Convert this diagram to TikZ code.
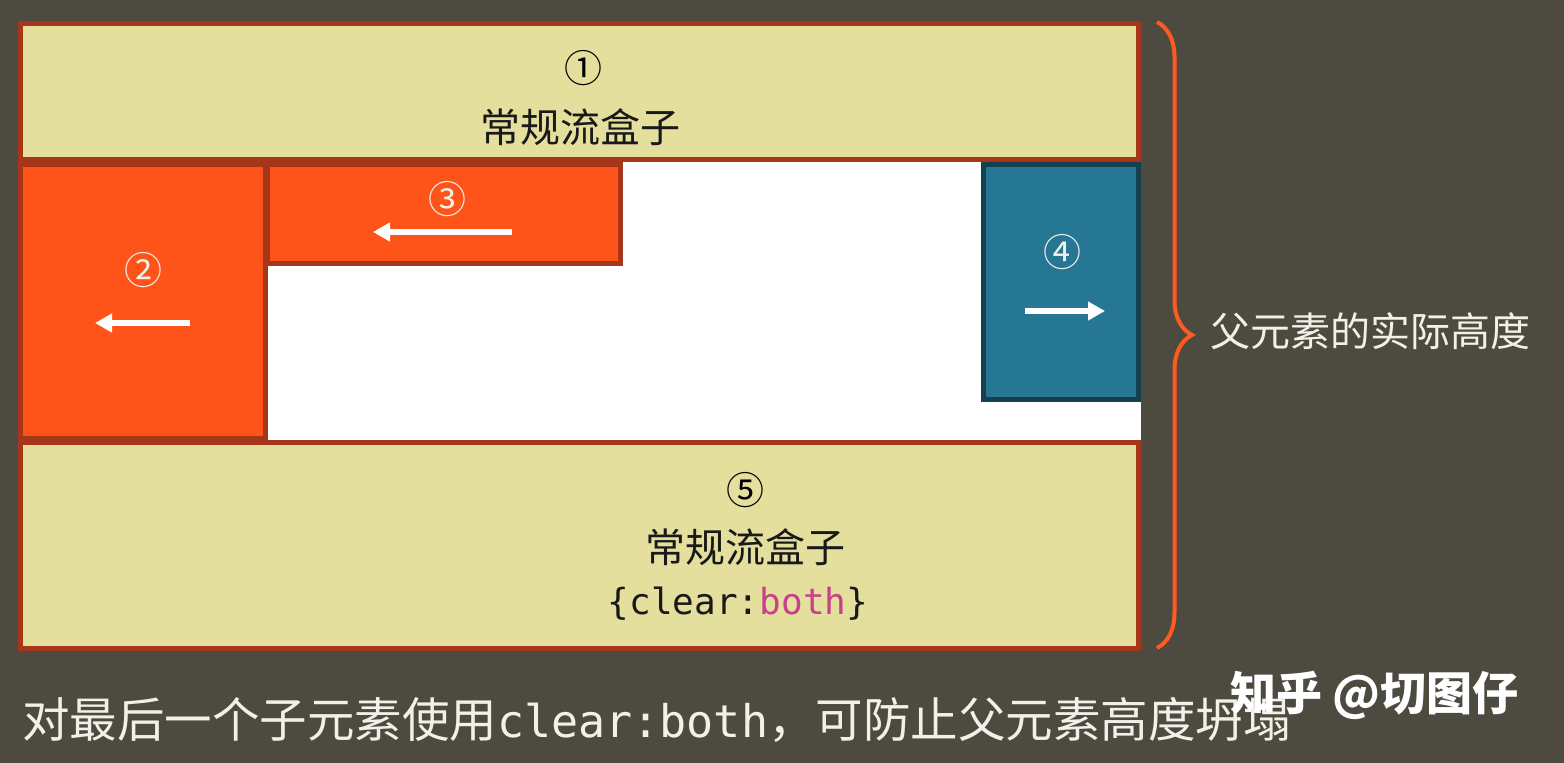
\documentclass[tikz,border=0pt]{standalone}
\usepackage{fontspec}
\setmainfont{Noto Sans CJK SC}
\setmonofont{DejaVu Sans Mono}
\usepackage{xcolor}
\usepackage{tikz}
\usetikzlibrary{arrows.meta}
\usetikzlibrary{decorations.pathreplacing}
\usetikzlibrary{positioning}

\definecolor{bgcol}{HTML}{4D4A40}
\definecolor{tancol}{HTML}{E5DF9D}
\definecolor{rustcol}{HTML}{A6361A}
\definecolor{orangecol}{HTML}{FF5419}
\definecolor{tealcol}{HTML}{257793}
\definecolor{tealline}{HTML}{15404F}
\definecolor{bracecol}{HTML}{FF5A1F}
\definecolor{paper}{HTML}{F2F0E8}
\definecolor{pinkcol}{HTML}{C8408A}

\tikzset{
  flowbox/.style = {draw = rustcol, fill = tancol, line width = 5pt, inner sep = 0pt},
  leftbox/.style = {draw = rustcol, fill = orangecol, line width = 5pt, inner sep = 0pt},
  rightbox/.style = {draw = tealline, fill = tealcol, line width = 5pt, inner sep = 0pt},
  movearrow/.style = {draw = white, line width = 6pt, -{Triangle[length=17pt, width=18pt]}},
  numtext/.style = {inner sep = 0pt, font = \fontsize{38}{38}\selectfont},
  boxtext/.style = {inner sep = 0pt, font = \fontsize{40}{40}\selectfont, text = black!90},
  darktext/.style = {inner sep = 0pt, text = paper}
}

\begin{document}
\begin{tikzpicture}[x = 1pt, y = -1pt]
\fill [bgcol] (0, 0) rectangle (1564, 763);
\fill [white] (18, 160) rectangle (1141, 442);

% boxes
\node [flowbox, minimum width = 1118pt, minimum height = 136pt] (box1) at (579.5, 91.5) {};
\node [leftbox, minimum width = 353pt, minimum height = 99pt] (box3) at (444, 214) {};
\node [leftbox, minimum width = 245pt, minimum height = 274pt] (box2) at (143, 301.5) {};
\node [rightbox, minimum width = 155pt, minimum height = 235pt] (box4) at (1061, 282) {};
\node [flowbox, minimum width = 1118pt, minimum height = 206pt] (box5) at (579.5, 545.5) {};

% labels
\node [numtext] (num1) at (583, 68) {①};
\node [boxtext] (name1) at (580, 127) {常规流盒子};
\node [numtext, text = paper] (num2) at (143, 270) {②};
\node [numtext, text = paper] (num3) at (447, 199) {③};
\node [numtext, text = paper] (num4) at (1062, 252) {④};
\node [numtext] (num5) at (745, 490) {⑤};
\node [boxtext] (name5) at (745, 547) {常规流盒子};
\node [boxtext, font = \fontsize{36}{36}\selectfont\ttfamily] (rule5) at (738, 604) {\{clear:\textcolor{pinkcol}{both}\}};

% float directions
\coordinate (from2) at (190, 323);
\coordinate (to2) at (95, 323);
\coordinate (from3) at (512, 232);
\coordinate (to3) at (373, 232);
\coordinate (from4) at (1025, 311);
\coordinate (to4) at (1105, 311);
\draw [movearrow] (from2) -- (to2);
\draw [movearrow] (from3) -- (to3);
\draw [movearrow] (from4) -- (to4);

% parent height
\coordinate (bracetop) at (1157, 22);
\coordinate (bracebot) at (1157, 648);
\draw [bracecol, line width = 4pt, decorate, decoration = {brace, amplitude = 35pt}] (bracetop) -- (bracebot);
\node [darktext, anchor = west, font = \fontsize{40}{40}\selectfont] (height) at (1210, 331) {父元素的实际高度};

\node [darktext, anchor = west, font = \fontsize{47.5}{47.5}\selectfont] (note) at (22, 720) {对最后一个子元素使用{\fontsize{45}{45}\selectfont\ttfamily clear:both}，可防止父元素高度坍塌};
\node [inner sep = 0pt, anchor = west, text = white, font = \fontsize{46}{46}\selectfont\bfseries] (mark) at (1230, 695) {知乎 @切图仔};
\end{tikzpicture}
\end{document}
